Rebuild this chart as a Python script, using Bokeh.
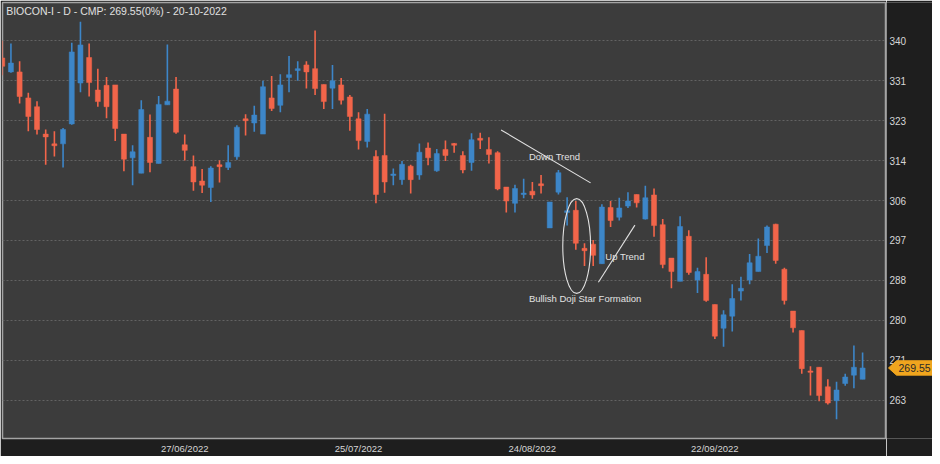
import numpy as np
from bokeh.plotting import figure
from bokeh.layouts import row
from bokeh.models import (ColumnDataSource, FixedTicker, LinearAxis, Range1d, Grid)
from bokeh.core.properties import value
from bokeh.embed import file_html
from bokeh.resources import INLINE

# ---- data ----
opens = [336.3, 333.3, 333.3, 327.7, 325.8, 319.9, 317.8, 317.8, 322.1, 330.9,
         336.4, 329.4, 330.4, 330.5, 319.9, 314.8, 311.5, 319.2, 313.6, 326.2,
         329.6, 317.6, 312.9, 309.8, 308.4, 313.3, 312.7, 315.0, 323.2, 322.3,
         319.9, 327.7, 326.1, 332.1, 333.6, 334.8, 334.0, 330.6, 329.8, 330.5,
         327.9, 323.2, 318.3, 315.1, 315.3, 311.0, 310.1, 313.0, 311.1, 316.9,
         312.0, 316.6, 317.9, 315.3, 313.8, 319.0, 316.6, 315.9, 308.5, 305.0,
         306.9, 307.6, 309.2, 299.7, 307.4, 303.0, 303.5, 295.3, 296.2, 292.0,
         304.1, 302.0, 304.4, 306.9, 301.6, 306.8, 300.4, 293.2, 288.2, 297.9,
         288.5, 289.7, 283.2, 278.1, 280.7, 286.1, 288.5, 290.3, 295.9, 300.5,
         290.8, 281.8, 277.6, 268.9, 269.7, 265.5, 262.5, 266.2, 268.0, 267.1]
highs = [340.0, 339.4, 335.6, 328.8, 327.0, 320.9, 320.5, 321.2, 339.6, 344.1,
         339.4, 334.0, 332.2, 330.5, 319.9, 317.5, 327.2, 324.1, 328.1, 339.2,
         332.2, 319.8, 315.3, 312.4, 313.0, 314.3, 317.5, 321.8, 324.2, 326.0,
         331.4, 332.4, 332.8, 336.7, 335.6, 335.6, 342.2, 330.6, 334.8, 332.0,
         328.3, 324.6, 325.3, 316.4, 324.3, 312.5, 314.1, 313.3, 317.9, 318.1,
         316.7, 318.5, 318.0, 316.2, 320.1, 320.2, 319.2, 316.2, 308.5, 309.0,
         310.3, 309.6, 311.1, 305.3, 312.2, 306.3, 305.5, 296.4, 297.1, 304.8,
         305.5, 306.2, 307.4, 306.9, 308.8, 308.2, 301.6, 293.2, 302.2, 299.2,
         291.1, 293.4, 283.2, 282.0, 287.6, 289.2, 294.1, 297.4, 300.2, 300.6,
         291.1, 281.8, 277.6, 269.9, 269.7, 267.1, 266.6, 268.3, 274.4, 272.9]
lows = [332.6, 333.1, 326.5, 320.5, 319.8, 313.3, 315.1, 312.7, 321.9, 328.9,
        328.0, 325.8, 323.3, 318.4, 311.9, 308.9, 311.5, 311.7, 313.6, 326.2,
        320.0, 314.2, 307.7, 307.2, 305.3, 309.5, 312.2, 314.4, 319.6, 320.4,
        319.9, 324.9, 324.6, 328.9, 331.4, 329.7, 328.3, 325.3, 325.3, 326.3,
        320.6, 316.6, 317.0, 305.0, 307.3, 308.9, 309.0, 307.1, 310.1, 313.2,
        311.8, 314.1, 315.9, 311.5, 312.0, 316.7, 313.6, 307.8, 303.0, 303.0,
        306.1, 306.0, 307.1, 299.7, 306.9, 300.2, 295.0, 291.5, 291.5, 292.0,
        299.9, 301.3, 304.0, 304.1, 301.5, 297.8, 291.0, 286.7, 288.2, 289.6,
        285.7, 283.8, 275.8, 274.1, 277.4, 284.1, 287.6, 290.3, 294.3, 292.0,
        283.2, 277.2, 268.3, 263.6, 262.4, 261.7, 258.5, 265.7, 265.2, 267.1]
closes = [334.5, 335.2, 328.0, 323.7, 320.9, 319.3, 317.4, 320.9, 337.6, 339.1,
          331.0, 326.9, 325.8, 321.1, 314.5, 316.1, 325.2, 313.8, 326.3, 327.0,
          320.3, 316.4, 309.6, 308.9, 312.6, 312.9, 313.8, 321.4, 322.8, 324.0,
          330.1, 325.4, 330.5, 332.7, 334.0, 333.3, 329.7, 326.9, 331.4, 327.2,
          323.7, 318.5, 324.2, 306.9, 309.6, 311.3, 313.4, 310.1, 316.0, 314.8,
          315.7, 315.3, 317.5, 312.2, 318.7, 318.6, 315.5, 308.1, 305.5, 308.2,
          307.2, 306.8, 308.8, 305.3, 311.6, 303.4, 296.4, 294.8, 293.8, 304.2,
          301.3, 304.0, 305.5, 305.1, 306.2, 300.2, 291.8, 290.3, 300.0, 290.1,
          290.3, 284.1, 276.4, 281.0, 284.5, 286.7, 292.2, 293.6, 299.9, 292.7,
          284.1, 278.2, 269.4, 268.6, 263.6, 262.0, 264.8, 267.6, 269.7, 269.55]

date_ticks = [21, 41, 61, 82]
date_labels = ["27/06/2022", "25/07/2022", "24/08/2022", "22/09/2022"]
price_ticks = [262.6, 271.2, 279.8, 288.4, 297.0, 305.6, 314.2, 322.8, 331.4, 340.0]
price_labels = ["263", "271", "280", "288", "297", "306", "314", "323", "331", "340"]
last_price = 269.55
title_text = "BIOCON-I - D - CMP: 269.55(0%) - 20-10-2022"

UP = "#3d86c8"
DOWN = "#f2654a"
MARK = "#f0a51e"
PLOT_BG = "#3c3c3c"
OUTER_BG = "#1e1e1e"
LABEL_C = "#d6d6d6"
FONT = "Liberation Sans"

H = 456
BT, BB = 2, 18
MAIN_W, AXIS_W = 886, 46

o = np.array(opens); c = np.array(closes)
src = ColumnDataSource(dict(
    x=np.arange(len(opens)), high=highs, low=lows,
    top=np.maximum(o, c), bottom=np.minimum(o, c),
    color=[UP if cc >= oo else DOWN for oo, cc in zip(opens, closes)],
))

yr = Range1d(254.36, 348.24)

# ---------- main price panel ----------
p = figure(width=MAIN_W, height=H, output_backend="svg", toolbar_location=None,
           x_range=Range1d(0.03, 101.75), y_range=yr,
           x_axis_location=None, y_axis_location=None,
           min_border_left=2, min_border_top=BT, min_border_right=0, min_border_bottom=BB)
p.background_fill_color = PLOT_BG
p.border_fill_color = OUTER_BG
p.outline_line_color = "#a4a4a4"
p.outline_line_width = 1.5
p.xgrid.visible = False
p.ygrid.visible = False

xaxis = LinearAxis(ticker=FixedTicker(ticks=date_ticks),
                   major_label_overrides=dict(zip(date_ticks, date_labels)))
xaxis.axis_line_color = None
xaxis.major_tick_line_color = None
xaxis.minor_tick_line_color = None
xaxis.major_tick_out = 0
xaxis.major_tick_in = 0
xaxis.major_label_text_color = LABEL_C
xaxis.major_label_text_font = FONT
xaxis.major_label_text_font_size = "9.5px"
xaxis.major_label_standoff = 4
p.add_layout(xaxis, "below")
p.add_layout(Grid(dimension=1, ticker=FixedTicker(ticks=price_ticks), grid_line_color="#636363",
                  grid_line_dash="2 2", grid_line_width=1))

p.segment(x0="x", y0="high", x1="x", y1="low", color="color", line_width=1.6, source=src)
p.vbar(x="x", width=0.58, top="top", bottom="bottom", fill_color="color",
       line_color="color", line_width=0.5, source=src)

# annotations
ann_color = "#e2e2e2"
p.segment(x0=[57.4, 68.6], y0=[320.8, 288.0], x1=[67.7, 72.8], y1=[309.4, 300.3],
          line_color=ann_color, line_width=1.1)
p.ellipse(x=66.1, y=295.8, width=3.2, height=20.4, fill_color=None,
          line_color=ann_color, line_width=1.1)
p.text(x=[60.6, 69.4, 60.6], y=[315.1, 293.5, 284.6],
       text=["Down Trend", "Up  Trend", "Bullish Doji Star Formation"],
       text_font=value(FONT), text_font_size="9.5px", text_color=ann_color,
       text_baseline="middle")
p.text(x=[0.45], y=[348.24], y_offset=2, text=[title_text], text_font=value(FONT),
       text_font_size="10.5px", text_color="#e0e0e0", text_baseline="top")

# ---------- right price-axis strip ----------
a = figure(width=AXIS_W, height=H, output_backend="svg", toolbar_location=None,
           x_range=Range1d(0, AXIS_W), y_range=yr,
           x_axis_location=None, y_axis_location=None,
           min_border_left=0, min_border_top=BT, min_border_right=0, min_border_bottom=BB)
a.background_fill_color = OUTER_BG
a.border_fill_color = OUTER_BG
a.outline_line_color = None
a.xgrid.visible = False
a.ygrid.visible = False
a.text(x=[3] * len(price_ticks), y=price_ticks, text=price_labels,
       text_font=value(FONT), text_font_size="10px", text_color=LABEL_C,
       text_baseline="middle")
a.patch(x=[2, 10, AXIS_W, AXIS_W, 10],
        y=[last_price, last_price + 1.55, last_price + 1.55, last_price - 1.55, last_price - 1.55],
        fill_color=MARK, line_color=MARK)
a.text(x=[12], y=[last_price], text=[f"{last_price:.2f}"], text_font=value(FONT),
       text_font_size="10.5px", text_color="#2a2a2a", text_baseline="middle")

layout = row(p, a, spacing=0)
open("out.html", "w").write(file_html(layout, INLINE))
